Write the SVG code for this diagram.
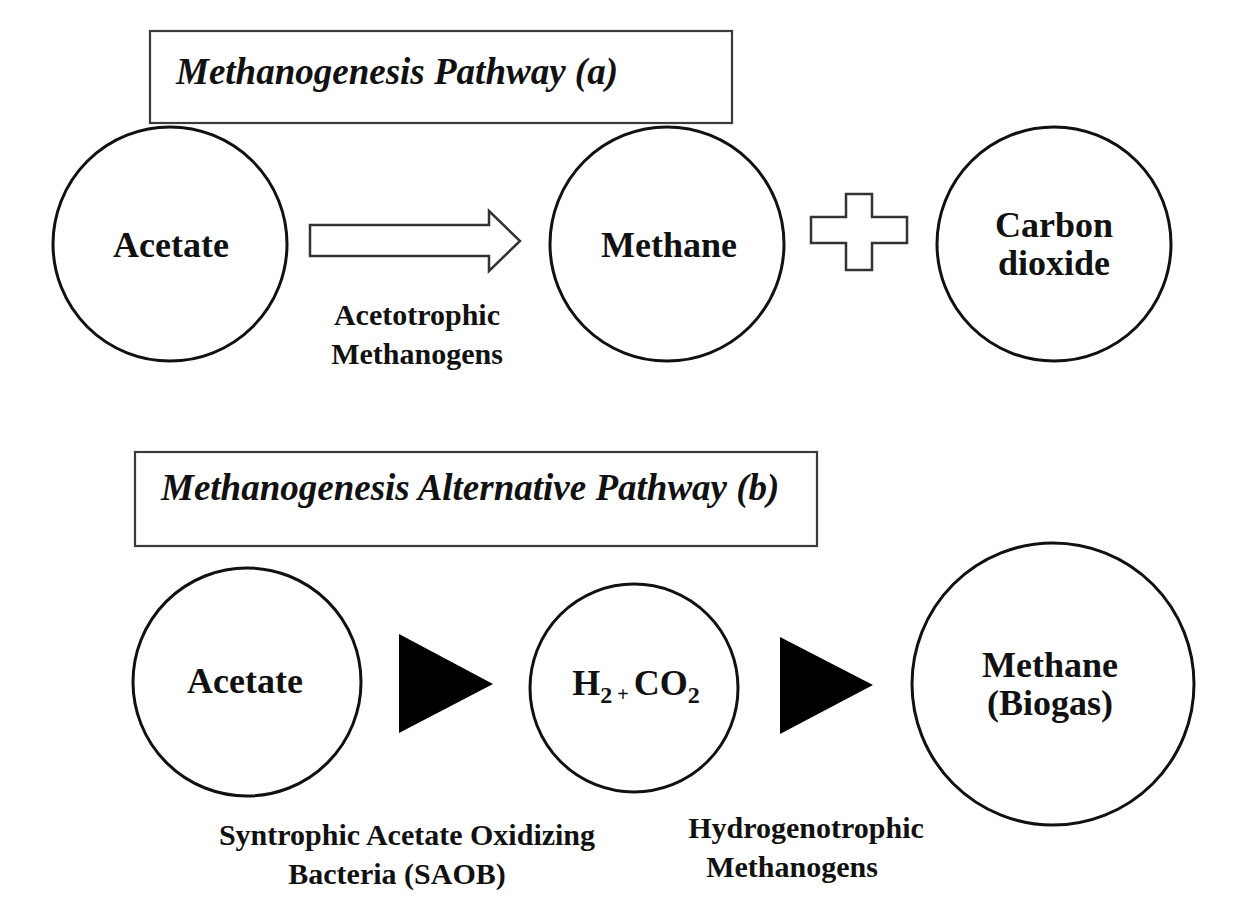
<svg xmlns="http://www.w3.org/2000/svg" width="1234" height="898" viewBox="0 0 1234 898">
  <style>
    .bg { fill: #ffffff; }
    .box { fill: #ffffff; stroke: #3a3a3a; stroke-width: 2.2; }
    .node { fill: #ffffff; stroke: #111111; stroke-width: 3; }
    .title { font-family: "Liberation Serif", "Times New Roman", serif; font-weight: bold; font-style: italic; font-size: 37px; fill: #111111; }
    .lbl { font-family: "Liberation Serif", "Times New Roman", serif; font-weight: bold; font-size: 36px; fill: #111111; text-anchor: middle; }
    .cap { font-family: "Liberation Serif", "Times New Roman", serif; font-weight: bold; font-size: 30px; fill: #111111; text-anchor: middle; }
    .hollow { fill: #ffffff; stroke: #333333; stroke-width: 2.5; stroke-linejoin: miter; }
    .solid { fill: #000000; stroke: none; }
  </style>
  <rect class="bg" x="0" y="0" width="1234" height="898"/>

  <g id="title-a">
    <rect class="box" x="150" y="31" width="582" height="92"/>
    <text class="title" x="176" y="84">Methanogenesis Pathway (a)</text>
  </g>

  <g id="acetate-a">
    <circle class="node" cx="170" cy="244" r="117"/>
    <text class="lbl" x="171" y="257">Acetate</text>
  </g>

  <g id="methane-a">
    <circle class="node" cx="667" cy="244" r="117"/>
    <text class="lbl" x="669" y="257">Methane</text>
  </g>

  <g id="co2-a">
    <circle class="node" cx="1054" cy="244" r="117"/>
    <text class="lbl" x="1054" y="237">Carbon</text>
    <text class="lbl" x="1054" y="275">dioxide</text>
  </g>

  <g id="title-b">
    <rect class="box" x="135" y="452" width="682" height="94"/>
    <text class="title" x="161" y="500">Methanogenesis Alternative Pathway (b)</text>
  </g>

  <g id="acetate-b">
    <circle class="node" cx="247" cy="682" r="114"/>
    <text class="lbl" x="245" y="693">Acetate</text>
  </g>

  <g id="h2co2-b">
    <circle class="node" cx="634" cy="688" r="104"/>
    <text class="lbl" x="636" y="695" style="text-anchor: middle">H<tspan font-size="24" dy="8">2</tspan><tspan font-size="20" dy="-2"> + </tspan><tspan dy="-6">CO</tspan><tspan font-size="24" dy="8">2</tspan></text>
  </g>

  <g id="methane-b">
    <circle class="node" cx="1053" cy="684" r="141"/>
    <text class="lbl" x="1050" y="677">Methane</text>
    <text class="lbl" x="1050" y="715">(Biogas)</text>
  </g>

  <g id="connectors">
    <polygon class="hollow" points="310,225 489,225 489,211 520,241 489,271 489,256 310,256"/>
    <polygon class="hollow" points="846,194 872,194 872,217 907,217 907,243 872,243 872,270 846,270 846,243 811,243 811,217 846,217"/>
    <text class="cap" x="417" y="325">Acetotrophic</text>
    <text class="cap" x="417" y="364">Methanogens</text>
    <polygon class="solid" points="399,634 493,684 399,733"/>
    <polygon class="solid" points="780,637 873,685 780,734"/>
    <text class="cap" x="407" y="845">Syntrophic Acetate Oxidizing</text>
    <text class="cap" x="397" y="884">Bacteria (SAOB)</text>
    <text class="cap" x="806" y="838">Hydrogenotrophic</text>
    <text class="cap" x="792" y="877">Methanogens</text>
  </g>
</svg>
